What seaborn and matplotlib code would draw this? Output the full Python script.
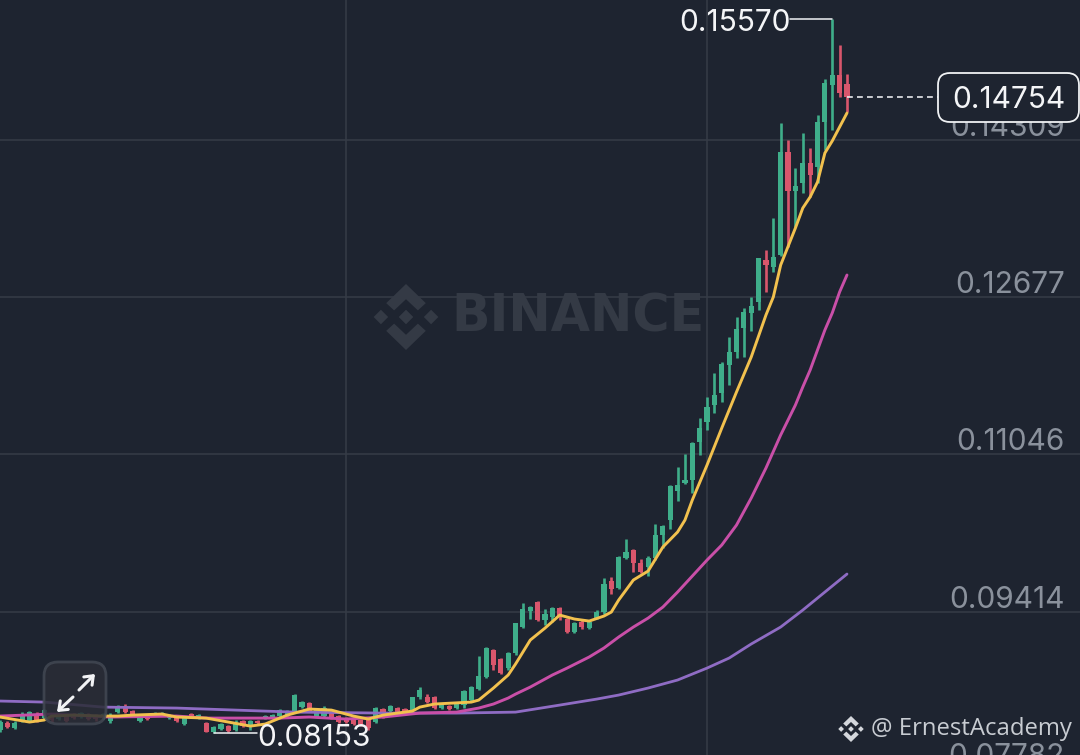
import numpy as np
import matplotlib
matplotlib.use("Agg")
import matplotlib.pyplot as plt
import seaborn as sns
from matplotlib.patches import FancyBboxPatch, Polygon
from matplotlib.transforms import IdentityTransform

# prices, in 1e-5 units
highs = [8290,8279,8279,8372,8383,8372,8404,8352,8362,8352,
         8362,8372,8362,8352,8362,8362,8445,8456,8393,8331,
         8331,8372,8372,8352,8331,8321,8362,8352,8269,8227,
         8259,8238,8290,8290,8290,8290,8341,8352,8404,8393,
         8559,8487,8476,8404,8435,8372,8341,8321,8321,8300,
         8321,8424,8414,8445,8424,8414,8528,8632,8559,8538,
         8466,8445,8476,8601,8642,8954,9047,9026,8933,8995,
         9296,9504,9473,9525,9442,9462,9462,9348,9307,9327,
         9317,9431,9763,9774,9992,10168,10064,9961,9992,10324,
         10314,10729,10915,11050,11175,11424,11642,11891,12005,12265,
         12473,12566,12680,13084,13167,13500,14486,14309,14018,14382,
         14226,14569,14942,15570,15295,14994]
lows = [8165,8207,8196,8269,8269,8269,8300,8269,8290,8269,
        8300,8310,8290,8279,8300,8259,8362,8362,8331,8269,
        8290,8331,8331,8300,8269,8238,8310,8300,8165,8153,
        8186,8165,8175,8217,8186,8248,8300,8300,8321,8321,
        8362,8414,8372,8321,8321,8300,8259,8259,8238,8227,
        8186,8259,8310,8341,8362,8362,8383,8507,8466,8404,
        8404,8393,8404,8414,8487,8601,8726,8809,8767,8809,
        8964,9244,9338,9317,9276,9307,9327,9193,9193,9234,
        9234,9338,9390,9597,9649,9961,9826,9815,9784,9950,
        10075,10272,10563,10739,10646,11040,11300,11476,11590,11767,
        12047,12057,12327,12545,12732,12939,13105,13199,13406,13759,
        13718,13863,14205,14413,14755,14600]
opens = [8186,8259,8207,8279,8279,8352,8310,8331,8300,8331,
         8341,8321,8352,8341,8310,8279,8372,8424,8383,8279,
         8321,8341,8341,8310,8321,8248,8352,8310,8259,8165,
         8196,8227,8186,8279,8217,8279,8310,8310,8331,8331,
         8372,8424,8466,8331,8331,8362,8331,8310,8310,8290,
         8310,8269,8404,8383,8414,8404,8393,8528,8528,8528,
         8414,8435,8414,8445,8497,8611,8736,9016,8923,8829,
         8985,9255,9421,9514,9327,9359,9452,9338,9203,9307,
         9244,9348,9410,9732,9660,9971,10054,9919,9877,9971,
         10210,10365,10666,10749,10781,11175,11383,11559,11684,11974,
         12109,12359,12514,12628,13064,12991,13116,14185,13780,13863,
         14070,14029,14496,14880,14984,14890]
closes = [8269,8217,8259,8352,8372,8290,8393,8290,8341,8279,
          8310,8362,8300,8300,8352,8341,8424,8372,8341,8321,
          8300,8362,8362,8341,8279,8310,8321,8341,8165,8217,
          8248,8175,8248,8227,8279,8259,8331,8341,8393,8383,
          8549,8476,8383,8393,8414,8310,8269,8269,8248,8238,
          8207,8414,8362,8435,8372,8372,8528,8601,8476,8414,
          8466,8404,8466,8591,8632,8746,9037,8860,8777,8985,
          9296,9442,9462,9327,9390,9452,9369,9203,9296,9255,
          9307,9410,9701,9649,9981,10033,9919,9826,9971,10210,
          10303,10718,10729,10781,11165,11320,11538,11663,11985,12109,
          12348,12525,12587,13084,13012,13095,14185,13780,13832,14070,
          13946,14496,14901,14984,14797,14754]

# moving averages, read at these candle numbers
ma7_idx = [0,4,6,7,10,14,16,18,22,24,28,31,34,36,39,42,45,48,50,52,56,57,59,64,65,67,69,70,72,74,
           76,78,80,82,83,84,86,88,90,92,93,94,96,98,100,102,104,105,106,108,109,110,111,112,113,115]
ma7 = [8321,8269,8290,8331,8341,8331,8331,8341,8352,8321,8310,8269,8227,8248,8341,8404,8393,8331,8300,8341,
       8383,8424,8456,8476,8497,8622,8757,8871,9120,9244,9379,9338,9317,9369,9410,9535,9743,9836,10085,10241,
       10365,10573,10936,11320,11694,12057,12493,12680,13012,13396,13603,13718,13873,14174,14299,14589]
ma25_idx = [0,7,15,24,28,38,42,47,52,57,62,65,67,69,70,72,75,77,80,82,84,86,88,90,92,94,96,98,100,102,
            104,106,108,109,110,111,112,113,114,115]
ma25 = [8331,8352,8321,8331,8310,8310,8321,8300,8321,8362,8372,8414,8456,8518,8559,8632,8757,8829,8944,9037,
        9151,9255,9348,9462,9618,9784,9950,10106,10313,10594,10905,11248,11559,11746,11922,12130,12337,12514,12732,12908]
ma99_idx = [0,6,14,24,32,40,52,62,70,76,81,84,88,92,96,99,102,106,109,112,115]
ma99 = [8487,8476,8424,8414,8393,8372,8362,8362,8372,8445,8507,8549,8622,8705,8829,8933,9079,9255,9431,9618,9805]

axis_prices = [0.14309, 0.12677, 0.11046, 0.09414, 0.07782]
axis_labels = ["0.14309", "0.12677", "0.11046", "0.09414", "0.07782"]
high_label = "0.15570"
low_label = "0.08153"
last_label = "0.14754"
last_price = 0.14754

BG = "#1e2430"
GRID = "#363c47"
UP = "#3fae8a"
DOWN = "#d9566c"
W, H = 1080, 755


def px(x, y):
    return x, H - y


def add_px_patch(ax, patch):
    patch.set_clip_on(False)
    ax.add_patch(patch)


def binance_logo(ax, cx, cy, r, color, zorder):
    # five pieces of the mark, in units of its radius
    shapes = [
        [(0, 1), (.6, .42), (.36, .2), (0, .54), (-.36, .2), (-.6, .42)],
        [(0, -1), (.6, -.42), (.36, -.2), (0, -.54), (-.36, -.2), (-.6, -.42)],
        [(0, .22), (.22, 0), (0, -.22), (-.22, 0)],
        [(-.76, .22), (-.54, 0), (-.76, -.22), (-.98, 0)],
        [(.76, .22), (.98, 0), (.76, -.22), (.54, 0)],
    ]
    for s in shapes:
        pts = [(cx + a * r, H - cy + b * r) for a, b in s]
        add_px_patch(ax, Polygon(pts, closed=True, facecolor=color, edgecolor="none",
                                 transform=IdentityTransform(), zorder=zorder))


sns.set_theme(style="dark", rc={"axes.facecolor": BG, "figure.facecolor": BG,
                                "grid.color": GRID, "grid.linewidth": 1.1})
plt.rcParams["font.family"] = ["Inter", "DejaVu Sans"]

fig = plt.figure(figsize=(W / 100, H / 100), dpi=100)
ax = fig.add_axes([0, 0, 1, 1])

o = np.array(opens) / 1e5
c = np.array(closes) / 1e5
hi = np.array(highs) / 1e5
lo = np.array(lows) / 1e5
idx = np.arange(len(o))
cols = [UP if b >= a else DOWN for a, b in zip(o, c)]

ax.vlines(idx, lo, hi, colors=cols, linewidth=1.9, zorder=2)
ax.bar(idx, c - o, bottom=o, width=0.7, color=cols, linewidth=0, zorder=2)

sns.lineplot(x=ma99_idx, y=np.array(ma99) / 1e5, color="#8f6cc4", linewidth=2.0, ax=ax, zorder=3, estimator=None)
sns.lineplot(x=ma25_idx, y=np.array(ma25) / 1e5, color="#c94fa8", linewidth=2.1, ax=ax, zorder=4, estimator=None)
sns.lineplot(x=ma7_idx, y=np.array(ma7) / 1e5, color="#f2c14e", linewidth=2.1, ax=ax, zorder=5, estimator=None)

ax.set_xticks([47, 96])
ax.set_yticks(axis_prices)
ax.set_xticklabels([])
ax.set_yticklabels([])
# limits after the ticks, the lowest tick lies below the window
ax.set_xlim(0, W / 7.365)
ax.set_ylim(0.07927, 0.15762)
ax.tick_params(length=0)
ax.grid(True, zorder=0)
ax.set_axisbelow(True)
ax.set_xlabel("")
ax.set_ylabel("")
sns.despine(ax=ax, left=True, bottom=True)

# watermark
binance_logo(ax, 406, 317, 33, "#343a45", 1)
ax.text(451, H - 317, "BINANCE", transform=IdentityTransform(), color="#343a45",
        fontsize=36.5, fontweight="bold", family=["DejaVu Sans"], ha="left", va="center", zorder=1)

# price axis labels sit above their grid lines
for val, txt in zip(axis_prices, axis_labels):
    ax.annotate(txt, xy=(1, val), xycoords=("axes fraction", "data"), xytext=(-15, 12),
                textcoords="offset pixels", ha="right", va="center", color="#8a919c",
                fontsize=21.5, annotation_clip=False, zorder=6)

# high / low markers
ax.plot([107.3, 113], [0.1557, 0.1557], color="#f0f2f4", linewidth=1.1, zorder=6)
ax.text(107.3, 0.1552, high_label, color="#f4f5f7", fontsize=21.5, ha="right", va="center", zorder=6)
ax.plot([29, 34.9], [0.08153, 0.08153], color="#f0f2f4", linewidth=1.1, zorder=6)
ax.text(34.9, 0.08105, low_label, color="#f4f5f7", fontsize=21.5, ha="left", va="center", zorder=6)

# last price
ax.plot([115, 127.4], [last_price, last_price], color="#e8eaed", linewidth=1.2, linestyle=(0, (3.5, 2.5)), zorder=6)
x0, y0 = px(938, 122)
add_px_patch(ax, FancyBboxPatch((x0 + 12, y0 + 12), 141 - 24, 49 - 24, boxstyle="round,pad=12,rounding_size=12",
                                facecolor=BG, edgecolor="#f0f2f4", linewidth=1.3,
                                transform=IdentityTransform(), zorder=7))
ax.text(1009, H - 100, last_label, transform=IdentityTransform(), color="#f4f5f7", fontsize=21.5,
        ha="center", va="center", zorder=8)

# expand button over the chart
x0, y0 = px(44, 724)
add_px_patch(ax, FancyBboxPatch((x0 + 14, y0 + 14), 62 - 28, 62 - 28, boxstyle="round,pad=14,rounding_size=14",
                                facecolor="#2a2d36", edgecolor="#424853", linewidth=2.0, alpha=0.85,
                                transform=IdentityTransform(), zorder=7))
for tail, tip in [((73, 697), (57, 712)), ((79, 690), (95, 674))]:
    ax.annotate("", xy=px(*tip), xytext=px(*tail), xycoords="figure pixels", textcoords="figure pixels",
                arrowprops=dict(arrowstyle="->,head_length=0.45,head_width=0.35", color="#f2f3f5", lw=2.2,
                                shrinkA=0, shrinkB=0), zorder=8)

# credit
binance_logo(ax, 851, 729, 13, "#d4d7dc", 8)
ax.text(871, H - 729, "@ ErnestAcademy", transform=IdentityTransform(), color="#c8ccd2",
        fontsize=17.2, family=["Open Sans", "DejaVu Sans"], ha="left", va="center", zorder=8)

plt.savefig("out.png", dpi=100, facecolor=BG)
